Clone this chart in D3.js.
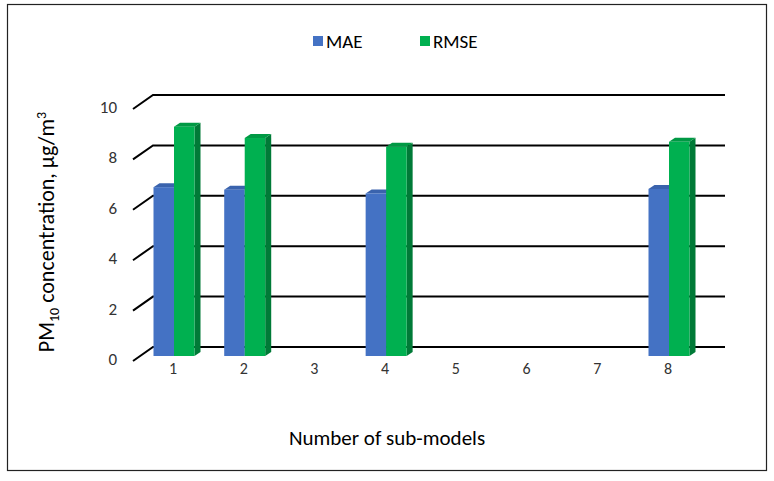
<!DOCTYPE html><html><head><meta charset="utf-8"><script src="https://cdn.jsdelivr.net/npm/d3@7"></script>
<style>body{margin:0;background:#fff}svg{font-family:Calibri,Carlito,"Open Sans",sans-serif}</style></head><body><svg width="774" height="481"></svg>
<script>
const categories=["1","2","3","4","5","6","7","8"];
const mae=[6.7,6.6,null,6.45,null,null,null,6.63];
const rmse=[9.1,8.65,null,8.3,null,null,null,8.5];
const yTicks=[0,2,4,6,8,10];
const svg=d3.select("svg");
svg.append("rect").attr("x",7.5).attr("y",4.5).attr("width",759).attr("height",466).attr("fill","#fff").attr("stroke","#222").attr("stroke-width",1.2);
const yBack=d3.scaleLinear().domain([0,10]).range([347,95]);
const x=d3.scalePoint().domain(categories).range([173,668]);
const dx=-20,dy=14;
const g=svg.append("g");
yTicks.forEach(t=>{
  const yy=yBack(t);
  g.append("path").attr("d",`M${153+dx},${yy+dy}L153,${yy}L725,${yy}`).attr("fill","none").attr("stroke","#000").attr("stroke-width",2);
  g.append("text").attr("x",117).attr("y",yy+dy).attr("text-anchor","end").attr("dominant-baseline","middle").attr("font-size",17).attr("fill","#333").text(t);
});
const yBar=d3.scaleLinear().domain([0,10]).range([356,104]);
const bw=20.5,sd=6,sdy=4;
function bar(cx,v,c,cs,ct){
  if(v==null)return;
  const y0=yBar(0),y1=yBar(v);
  g.append("path").attr("d",`M${cx+bw},${y1}L${cx+bw+sd},${y1-sdy}L${cx+bw+sd},${y0-sdy}L${cx+bw},${y0}Z`).attr("fill",cs);
  g.append("path").attr("d",`M${cx},${y1}L${cx+sd},${y1-sdy}L${cx+bw+sd},${y1-sdy}L${cx+bw},${y1}Z`).attr("fill",ct);
  g.append("rect").attr("x",cx).attr("y",y1).attr("width",bw).attr("height",y0-y1).attr("fill",c);
}
categories.forEach((c,i)=>{
  const cx=x(c);
  bar(cx-bw+1,mae[i],"#4472c4","#2f5597","#3a63ad");
  bar(cx+1,rmse[i],"#00b050","#007a37","#009944");
});
categories.forEach(c=>svg.append("text").attr("x",x(c)).attr("y",374).attr("text-anchor","middle").attr("font-size",16).attr("fill","#333").text(c));
svg.append("text").attr("x",387).attr("y",445).attr("text-anchor","middle").attr("font-size",21).text("Number of sub-models");
const yt=svg.append("text").attr("transform","translate(54,232) rotate(-90)").attr("text-anchor","middle").attr("font-size",22);
yt.append("tspan").text("PM");yt.append("tspan").attr("font-size",14).attr("dy",5).text("10");
yt.append("tspan").attr("dy",-5).text(" concentration, µg/m");yt.append("tspan").attr("font-size",14).attr("dy",-8).text("3");
const leg=[["MAE","#4472c4",313],["RMSE","#00b050",420]];
leg.forEach(l=>{svg.append("rect").attr("x",l[2]).attr("y",36).attr("width",10).attr("height",10).attr("fill",l[1]);
svg.append("text").attr("x",l[2]+13).attr("y",48).attr("font-size",19).text(l[0]);});
</script></body></html>
